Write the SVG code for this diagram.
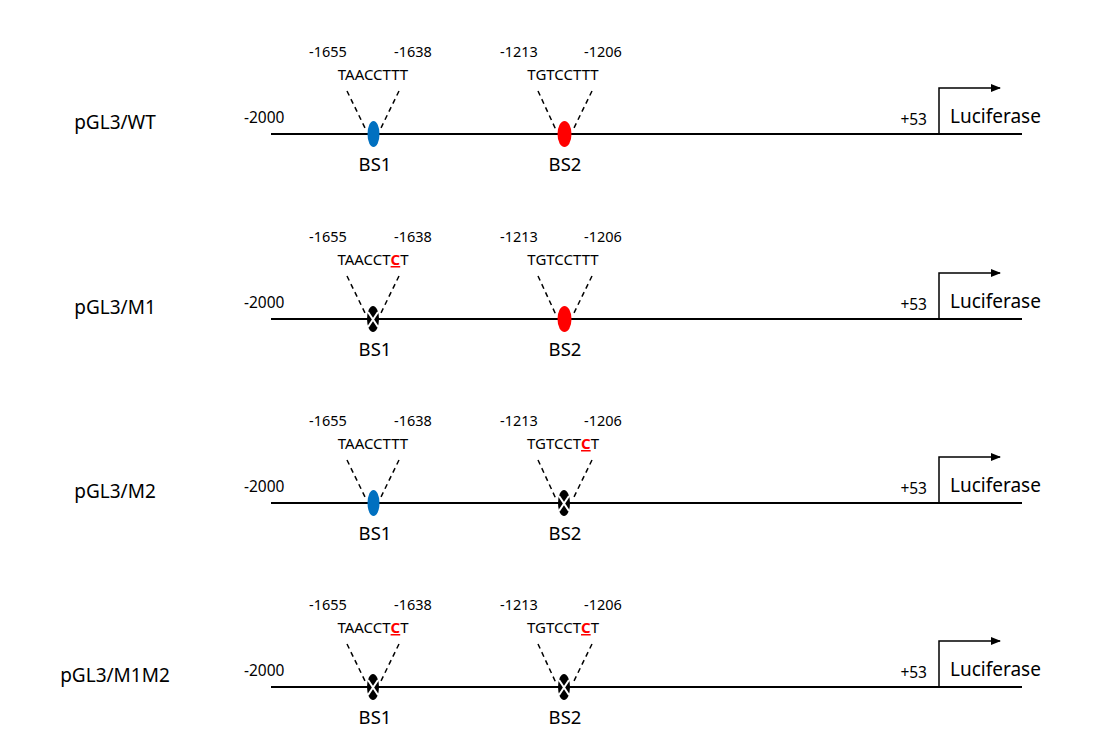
<svg xmlns="http://www.w3.org/2000/svg" width="1115" height="753" viewBox="0 0 1115 753">
<style>
text{font-family:"Noto Sans","Liberation Sans",sans-serif;fill:#000}
.lbl{font-size:19px;text-anchor:middle}
.num{font-size:14.5px;text-anchor:middle}
.seq{font-size:15px;text-anchor:middle}
.bs{font-size:18.5px;text-anchor:middle}
.end{font-size:15.5px}
.luc{font-size:19px}
.mut{fill:#ff0000;font-weight:bold;text-decoration:underline}
.dna{stroke:#000;stroke-width:2;fill:none}
.dash{stroke:#000;stroke-width:1.5;stroke-dasharray:5,4;fill:none}
.prom{stroke:#000;stroke-width:1.5;fill:none}
.x{stroke:#fff;stroke-width:2}
</style>
<defs>
<marker id="arr" markerWidth="10" markerHeight="10" refX="9" refY="5" orient="auto" markerUnits="userSpaceOnUse">
<path d="M0,1 L10,5 L0,9 Z" fill="#000"/>
</marker>
<g id="mutmark">
<ellipse cx="0" cy="0" rx="6" ry="13" fill="#000"/>
<line class="x" x1="-5" y1="-7" x2="5" y2="8"/>
<line class="x" x1="5" y1="-7" x2="-5" y2="8"/>
</g>
</defs>

<!-- Row 1: pGL3/WT -->
<g id="row-wt" transform="translate(0,134)">
<text class="lbl" x="115" y="-5">pGL3/WT</text>
<text class="end" x="244" y="-11">-2000</text>
<g id="wt-connectors">
<line class="dna" x1="271" y1="0" x2="1022" y2="0"/>
<line class="dash" x1="347" y1="-43" x2="366" y2="-4"/>
<line class="dash" x1="399" y1="-43" x2="380" y2="-4"/>
<line class="dash" x1="538" y1="-43" x2="556" y2="-4"/>
<line class="dash" x1="592" y1="-43" x2="573" y2="-4"/>
<polyline class="prom" points="939,0 939,-46 1000,-46" marker-end="url(#arr)"/>
</g>
<g id="wt-bs1">
<text class="num" x="328" y="-77">-1655</text>
<text class="num" x="413" y="-77">-1638</text>
<text class="seq" x="373" y="-54">TAACCTTT</text>
<ellipse cx="373.5" cy="0" rx="6" ry="13" fill="#0070c0"/>
<text class="bs" x="375" y="37">BS1</text>
</g>
<g id="wt-bs2">
<text class="num" x="519" y="-77">-1213</text>
<text class="num" x="603" y="-77">-1206</text>
<text class="seq" x="563" y="-54">TGTCCTTT</text>
<ellipse cx="564.5" cy="0" rx="7" ry="13" fill="#ff0000"/>
<text class="bs" x="565" y="37">BS2</text>
</g>
<text class="end" x="927" y="-9" text-anchor="end">+53</text>
<text class="luc" x="950" y="-11">Luciferase</text>
</g>

<!-- Row 2: pGL3/M1 -->
<g id="row-m1" transform="translate(0,319)">
<text class="lbl" x="115" y="-5">pGL3/M1</text>
<text class="end" x="244" y="-11">-2000</text>
<g id="m1-connectors">
<line class="dna" x1="271" y1="0" x2="1022" y2="0"/>
<line class="dash" x1="347" y1="-43" x2="366" y2="-4"/>
<line class="dash" x1="399" y1="-43" x2="380" y2="-4"/>
<line class="dash" x1="538" y1="-43" x2="556" y2="-4"/>
<line class="dash" x1="592" y1="-43" x2="573" y2="-4"/>
<polyline class="prom" points="939,0 939,-46 1000,-46" marker-end="url(#arr)"/>
</g>
<g id="m1-bs1">
<text class="num" x="328" y="-77">-1655</text>
<text class="num" x="413" y="-77">-1638</text>
<text class="seq" x="373" y="-54">TAACCT<tspan class="mut">C</tspan>T</text>
<use href="#mutmark" x="373" y="0"/>
<text class="bs" x="375" y="37">BS1</text>
</g>
<g id="m1-bs2">
<text class="num" x="519" y="-77">-1213</text>
<text class="num" x="603" y="-77">-1206</text>
<text class="seq" x="563" y="-54">TGTCCTTT</text>
<ellipse cx="564.5" cy="0" rx="7" ry="13" fill="#ff0000"/>
<text class="bs" x="565" y="37">BS2</text>
</g>
<text class="end" x="927" y="-9" text-anchor="end">+53</text>
<text class="luc" x="950" y="-11">Luciferase</text>
</g>

<!-- Row 3: pGL3/M2 -->
<g id="row-m2" transform="translate(0,503)">
<text class="lbl" x="115" y="-5">pGL3/M2</text>
<text class="end" x="244" y="-11">-2000</text>
<g id="m2-connectors">
<line class="dna" x1="271" y1="0" x2="1022" y2="0"/>
<line class="dash" x1="347" y1="-43" x2="366" y2="-4"/>
<line class="dash" x1="399" y1="-43" x2="380" y2="-4"/>
<line class="dash" x1="538" y1="-43" x2="556" y2="-4"/>
<line class="dash" x1="592" y1="-43" x2="573" y2="-4"/>
<polyline class="prom" points="939,0 939,-46 1000,-46" marker-end="url(#arr)"/>
</g>
<g id="m2-bs1">
<text class="num" x="328" y="-77">-1655</text>
<text class="num" x="413" y="-77">-1638</text>
<text class="seq" x="373" y="-54">TAACCTTT</text>
<ellipse cx="373.5" cy="0" rx="6" ry="13" fill="#0070c0"/>
<text class="bs" x="375" y="37">BS1</text>
</g>
<g id="m2-bs2">
<text class="num" x="519" y="-77">-1213</text>
<text class="num" x="603" y="-77">-1206</text>
<text class="seq" x="563" y="-54">TGTCCT<tspan class="mut">C</tspan>T</text>
<use href="#mutmark" x="564" y="0"/>
<text class="bs" x="565" y="37">BS2</text>
</g>
<text class="end" x="927" y="-9" text-anchor="end">+53</text>
<text class="luc" x="950" y="-11">Luciferase</text>
</g>

<!-- Row 4: pGL3/M1M2 -->
<g id="row-m1m2" transform="translate(0,687)">
<text class="lbl" x="115" y="-5">pGL3/M1M2</text>
<text class="end" x="244" y="-11">-2000</text>
<g id="m1m2-connectors">
<line class="dna" x1="271" y1="0" x2="1022" y2="0"/>
<line class="dash" x1="347" y1="-43" x2="366" y2="-4"/>
<line class="dash" x1="399" y1="-43" x2="380" y2="-4"/>
<line class="dash" x1="538" y1="-43" x2="556" y2="-4"/>
<line class="dash" x1="592" y1="-43" x2="573" y2="-4"/>
<polyline class="prom" points="939,0 939,-46 1000,-46" marker-end="url(#arr)"/>
</g>
<g id="m1m2-bs1">
<text class="num" x="328" y="-77">-1655</text>
<text class="num" x="413" y="-77">-1638</text>
<text class="seq" x="373" y="-54">TAACCT<tspan class="mut">C</tspan>T</text>
<use href="#mutmark" x="373" y="0"/>
<text class="bs" x="375" y="37">BS1</text>
</g>
<g id="m1m2-bs2">
<text class="num" x="519" y="-77">-1213</text>
<text class="num" x="603" y="-77">-1206</text>
<text class="seq" x="563" y="-54">TGTCCT<tspan class="mut">C</tspan>T</text>
<use href="#mutmark" x="564" y="0"/>
<text class="bs" x="565" y="37">BS2</text>
</g>
<text class="end" x="927" y="-9" text-anchor="end">+53</text>
<text class="luc" x="950" y="-11">Luciferase</text>
</g>
</svg>
